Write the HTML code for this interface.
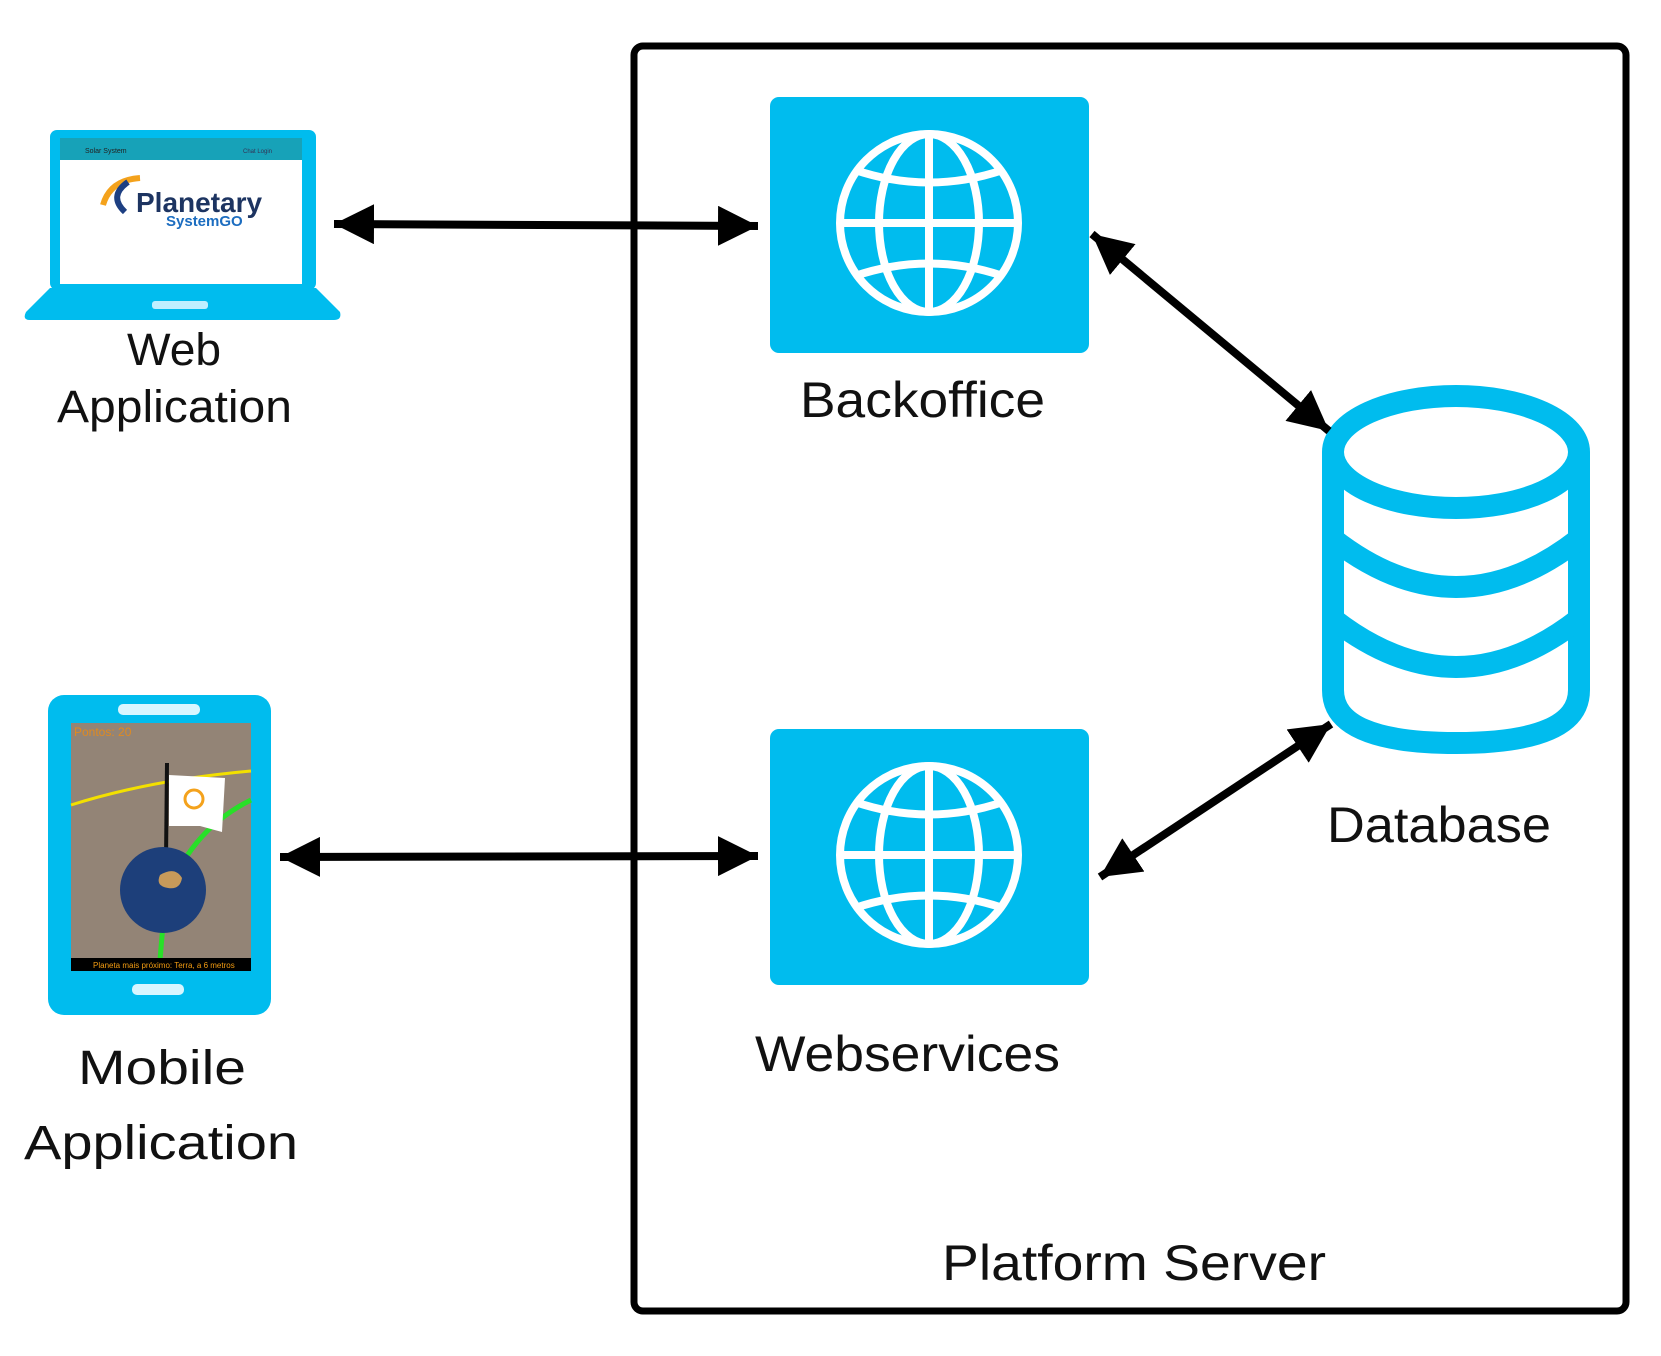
<!DOCTYPE html>
<html><head><meta charset="utf-8"><style>
html,body{margin:0;padding:0;background:#fff;}
svg{display:block;}
text{font-family:"Liberation Sans",sans-serif;fill:#111;}
</style></head><body>
<svg width="1661" height="1356" viewBox="0 0 1661 1356" xmlns="http://www.w3.org/2000/svg">
<defs>
<marker id="ah" viewBox="0 0 10 10" refX="10" refY="5" markerWidth="5" markerHeight="5" markerUnits="strokeWidth" orient="auto-start-reverse">
<path d="M0,0 L10,5 L0,10 z" fill="#000"/>
</marker>
</defs>

<!-- Platform server -->
<rect x="634" y="46" width="992" height="1265" rx="9" fill="none" stroke="#000" stroke-width="7"/>

<!-- Laptop -->
<rect x="50" y="130" width="266" height="160" rx="7" fill="#00bcee"/>
<rect x="60" y="138" width="242" height="146" fill="#fff"/>
<rect x="60" y="138" width="242" height="22" fill="#17a2b8"/>
<text x="85" y="153" font-size="7" style="fill:#222">Solar System</text>
<text x="243" y="153" font-size="6" style="fill:#335">Chat  Login</text>
<path d="M50 288 L316 288 L340 312 Q342 320 334 320 L30 320 Q22 320 26 312 Z" fill="#00bcee"/>
<rect x="152" y="301" width="56" height="8" rx="3" fill="#bfefff"/>
<path d="M103 205 Q110 180 140 178" fill="none" stroke="#f4a21c" stroke-width="6"/>
<path d="M125 212 Q108 196 128 182" fill="none" stroke="#1d3f82" stroke-width="6"/>
<text x="136" y="212" font-size="28" font-weight="bold" style="fill:#1d3461">Planetary</text>
<text x="166" y="226" font-size="15" font-weight="bold" style="fill:#1c6dc0">SystemGO</text>

<text x="127" y="365" font-size="45" textLength="94" lengthAdjust="spacingAndGlyphs">Web</text>
<text x="57" y="422" font-size="45" textLength="235" lengthAdjust="spacingAndGlyphs">Application</text>

<!-- Phone -->
<rect x="48" y="695" width="223" height="320" rx="16" fill="#00bcee"/>
<rect x="118" y="704" width="82" height="11" rx="5" fill="#d8f6ff"/>
<rect x="132" y="984" width="52" height="11" rx="5" fill="#d8f6ff"/>
<rect x="71" y="723" width="180" height="248" fill="#8a7a6c"/>
<rect x="71" y="723" width="180" height="248" fill="#9b8d80" opacity="0.5"/>
<path d="M71 805 Q150 780 251 771" fill="none" stroke="#f3e000" stroke-width="3"/>
<path d="M251 800 Q190 830 165 900 L160 960" fill="none" stroke="#28e028" stroke-width="5"/>
<line x1="167" y1="763" x2="166" y2="860" stroke="#111" stroke-width="4"/>
<path d="M169 775 L225 778 L222 832 L200 826 L169 826 Z" fill="#fff"/>
<circle cx="194" cy="799" r="9" fill="none" stroke="#f4a21c" stroke-width="3"/>
<circle cx="163" cy="890" r="43" fill="#1d3f7a"/>
<path d="M160 875 Q175 866 182 878 Q180 890 168 888 Q155 886 160 875Z" fill="#c79a5a"/>
<rect x="71" y="958" width="180" height="13" fill="#000"/>
<text x="93" y="968" font-size="8" style="fill:#f39c12">Planeta mais próximo: Terra, a 6 metros</text>
<text x="74" y="736" font-size="12" style="fill:#e08a20">Pontos: 20</text>

<text x="78" y="1084" font-size="48" textLength="168" lengthAdjust="spacingAndGlyphs">Mobile</text>
<text x="24" y="1159" font-size="48" textLength="274" lengthAdjust="spacingAndGlyphs">Application</text>

<!-- Backoffice -->
<rect x="770" y="97" width="319" height="256" rx="9" fill="#00bcee"/>
<g fill="none" stroke="#fff" stroke-width="8">
<circle cx="929" cy="223" r="89"/>
<ellipse cx="929" cy="223" rx="50" ry="89"/>
<line x1="929" y1="134" x2="929" y2="312"/>
<line x1="840" y1="223" x2="1018" y2="223"/>
<path d="M855 170 Q929 195 1003 170"/>
<path d="M855 276 Q929 251 1003 276"/>
</g>
<text x="800" y="417" font-size="50" textLength="245" lengthAdjust="spacingAndGlyphs">Backoffice</text>

<!-- Webservices -->
<rect x="770" y="729" width="319" height="256" rx="9" fill="#00bcee"/>
<g fill="none" stroke="#fff" stroke-width="8">
<circle cx="929" cy="855" r="89"/>
<ellipse cx="929" cy="855" rx="50" ry="89"/>
<line x1="929" y1="766" x2="929" y2="944"/>
<line x1="840" y1="855" x2="1018" y2="855"/>
<path d="M855 802 Q929 827 1003 802"/>
<path d="M855 908 Q929 883 1003 908"/>
</g>
<text x="755" y="1071" font-size="50" textLength="305" lengthAdjust="spacingAndGlyphs">Webservices</text>

<!-- Database -->
<g fill="none" stroke="#00bcee" stroke-width="22">
<ellipse cx="1456" cy="452" rx="123" ry="56"/>
<path d="M1333 452 L1333 690 Q1333 743 1456 743 Q1579 743 1579 690 L1579 452"/>
<path d="M1333 539 Q1456 635 1579 539"/>
<path d="M1333 619 Q1456 715 1579 619"/>
</g>
<text x="1327" y="842" font-size="50" textLength="224" lengthAdjust="spacingAndGlyphs">Database</text>

<text x="942" y="1280" font-size="50" textLength="384" lengthAdjust="spacingAndGlyphs">Platform Server</text>

<!-- Arrows -->
<g stroke="#000" stroke-width="8" fill="none" marker-start="url(#ah)" marker-end="url(#ah)">
<line x1="334" y1="224" x2="758" y2="226"/>
<line x1="280" y1="857" x2="758" y2="856"/>
<line x1="1092" y1="234" x2="1329" y2="431"/>
<line x1="1100" y1="877" x2="1331" y2="724"/>
</g>
</svg>
</body></html>
